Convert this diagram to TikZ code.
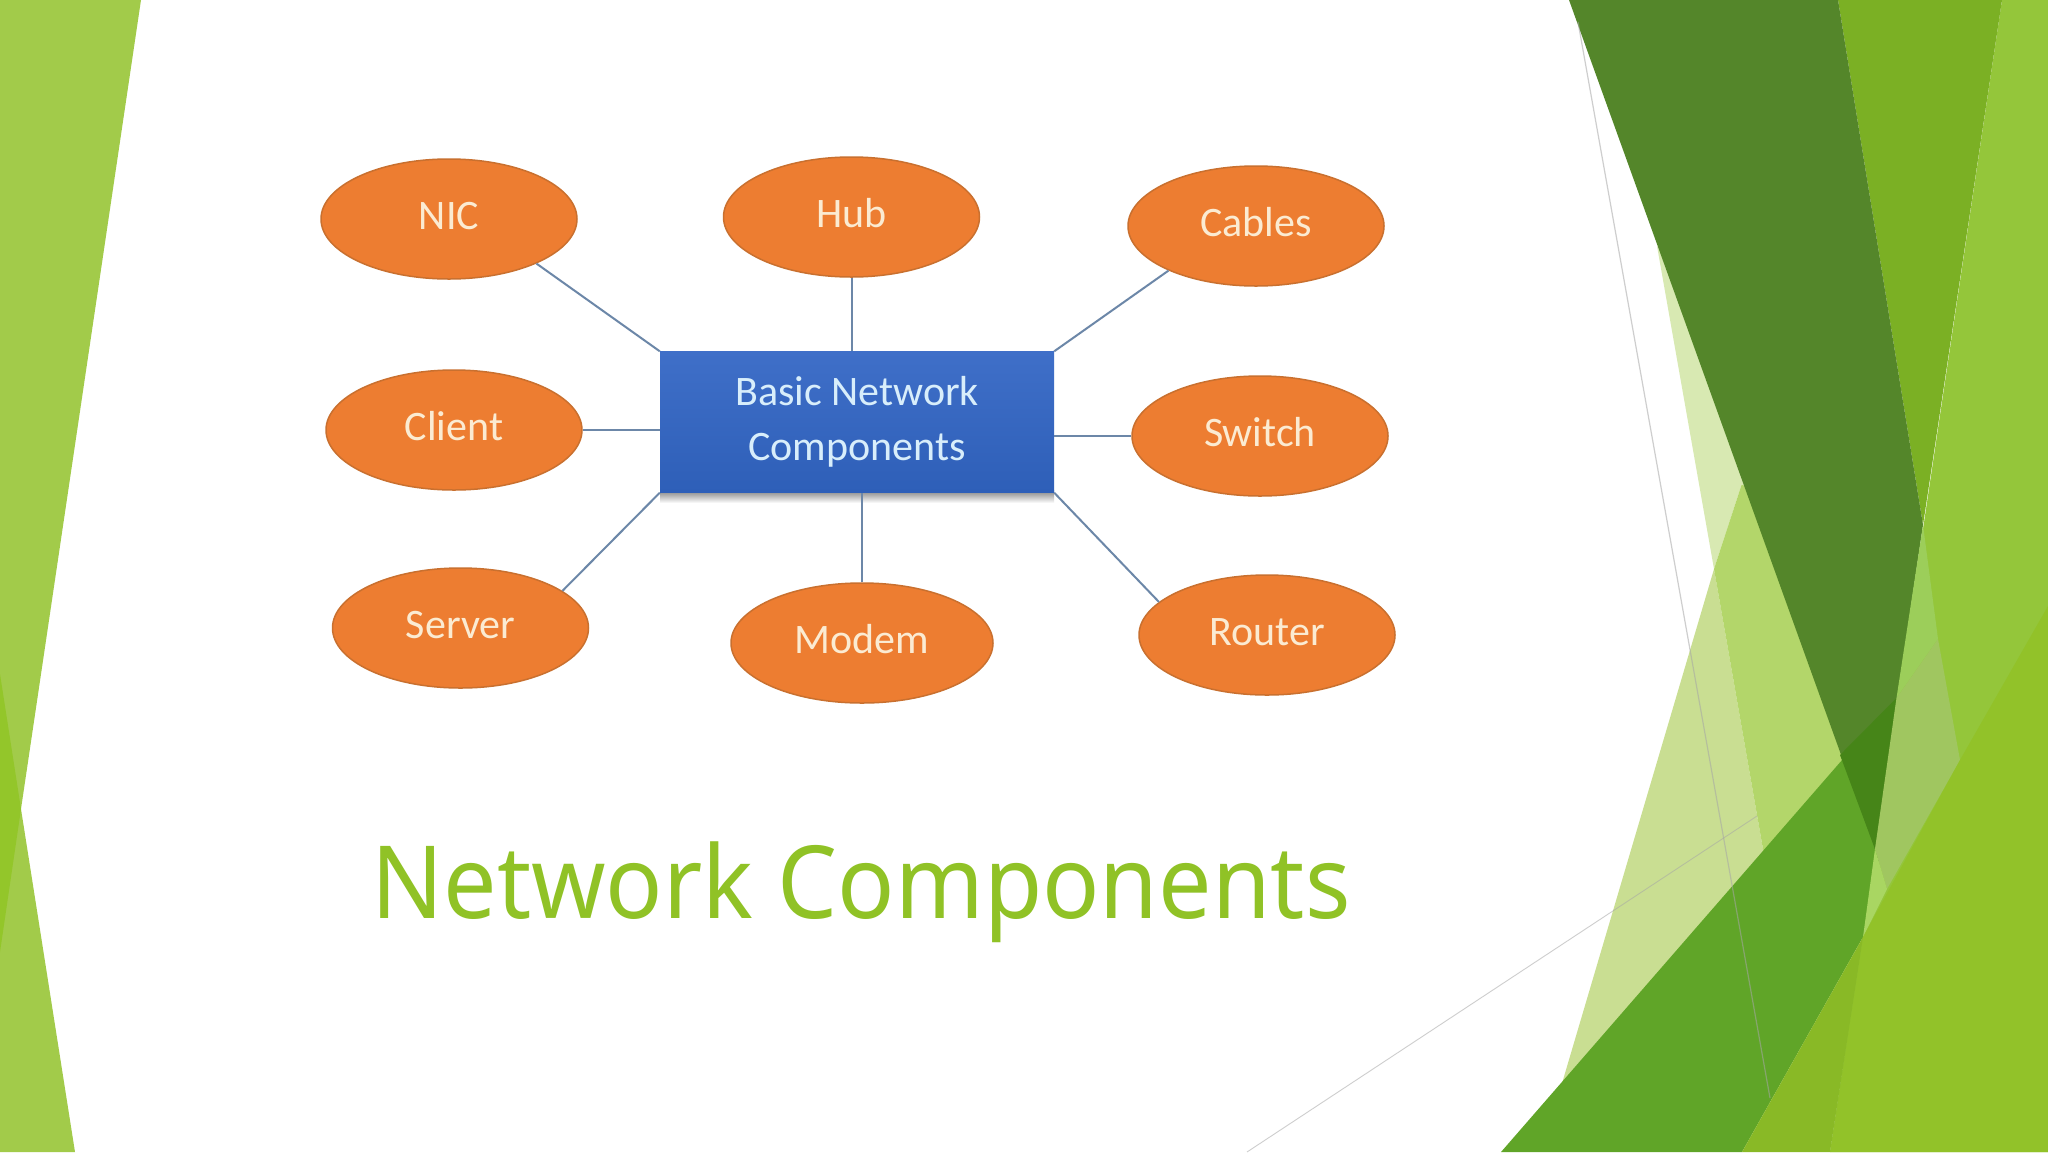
\documentclass[tikz,border=0pt]{standalone}
\usepackage{fontspec}
\setmainfont{Carlito}
\newfontfamily\titlefont{Noto Sans}[FakeStretch=0.94]
\usetikzlibrary{shapes.geometric}
\definecolor{orangefill}{HTML}{ED7D31}
\definecolor{orangeedge}{HTML}{C9702F}
\definecolor{linkcol}{HTML}{6C87A8}
\definecolor{labelcol}{HTML}{FBEBD2}
\definecolor{boxlabel}{HTML}{D8EEFB}
\definecolor{titlegreen}{HTML}{90C226}
\definecolor{boxtop}{HTML}{3F6FC8}
\definecolor{boxbot}{HTML}{2E5FB8}
\tikzset{
  comp/.style={ellipse,draw=orangeedge,line width=1.5pt,fill=orangefill,minimum width=256pt,minimum height=120pt,inner sep=0pt,text=labelcol,text height=26pt,text depth=6pt,font=\fontsize{42}{42}\selectfont},
  link/.style={draw=linkcol,line width=2pt},
  hub/.style={rectangle,minimum width=394pt,minimum height=141pt,inner sep=0pt,top color=boxtop,bottom color=boxbot,align=center,text=boxlabel,font=\fontsize{42}{55}\selectfont},
  thin gray/.style={draw=black!35,line width=1.2pt,opacity=.55},
}
\begin{document}
\begin{tikzpicture}[x=1pt,y=-1pt]
\useasboundingbox (0,0) rectangle (2048,1152);
\fill[white] (0,0) rectangle (2048,1152);
% left decoration
\fill[fill={rgb,255:red,162;green,203;blue,74}] (0,0) -- (141,0) -- (21,809) -- (75,1152) -- (0,1152) -- cycle;
\fill[fill={rgb,255:red,147;green,198;blue,42}] (0,674) -- (21,809) -- (0,952) -- cycle;
% pale layers, running on beneath the dark shapes
\fill[fill={rgb,255:red,216;green,233;blue,178}] (1657,246) -- (1800,500) -- (1741.5,485) -- (1714,569) -- cycle;
\fill[fill={rgb,255:red,201;green,222;blue,146}] (1714,569) -- (1767.5,875) -- (1555,1107) -- cycle;
\fill[fill={rgb,255:red,179;green,214;blue,106}] (1741.5,485) -- (1850,500) -- (1860,790) -- (1767.5,875) -- (1714,569) -- cycle;
% right top
\fill[fill={rgb,255:red,148;green,198;blue,58}] (2002,0) -- (2048,0) -- (2048,1152) -- (1830,1152) -- cycle;
\fill[fill={rgb,255:red,123;green,176;blue,36}] (1838,0) -- (2002,0) -- (1923,525) -- cycle;
% medium
\fill[fill={rgb,255:red,96;green,165;blue,40}] (1501,1152) -- (1896,698) -- (1880,860) -- (1863,937) -- (1742,1152) -- cycle;
% dark
\fill[fill={rgb,255:red,84;green,134;blue,42}] (1569,0) -- (1838,0) -- (1923,525) -- (1875,849) -- cycle;
\fill[fill={rgb,255:red,70;green,133;blue,24}] (1840,755) -- (1896.5,698) -- (1875,849) -- cycle;
% translucent panes
\fill[fill={rgb,255:red,156;green,206;blue,90}] (1923,525) -- (1938,639) -- (1896.5,698) -- cycle;
\fill[fill={rgb,255:red,160;green,198;blue,96}] (1938,639) -- (1960,760) -- (1887,889) -- (1875,849) -- (1896.5,698) -- cycle;
\fill[fill={rgb,255:red,169;green,214;blue,98}] (1887,889) -- (1863,937) -- (1875,849) -- cycle;
% bottom bright
\fill[fill={rgb,255:red,146;green,194;blue,41}] (1830,1152) -- (1863,937) -- (1960,760) -- (2048,606) -- (2048,1152) -- cycle;
\fill[fill={rgb,255:red,137;green,185;blue,38}] (1742,1152) -- (1863,937) -- (1830,1152) -- cycle;
% thin lines
\coordinate (la) at (1578,22);
\coordinate (lb) at (1770,1098);
\coordinate (lc) at (1247,1152);
\coordinate (ld) at (1757,816);
\draw[thin gray] (la) -- (lb);
\draw[thin gray,line width=.9pt] (lc) -- (ld);
% soft shadow below the box
\shade[top color=black!50,bottom color=white] (660,490) rectangle (1054,503);
% box
\node[hub] (box) at (857,422) {Basic Network\\Components};
% ellipses
\node[comp] (nic) at (449,219) {NIC};
\node[comp] (hubn) at (851.5,217) {Hub};
\node[comp] (cables) at (1256,226) {Cables};
\node[comp] (client) at (454,430) {Client};
\node[comp] (switch) at (1260,436) {Switch};
\node[comp] (server) at (460.5,628) {Server};
\node[comp,minimum width=262pt] (modem) at (862,643) {Modem};
\node[comp] (router) at (1267,635) {Router};
% links
\draw[link] (nic.-27) -- (box.north west);
\draw[link] (hubn.south) -- (hubn.south |- box.north);
\draw[link] (cables.-153) -- (box.north east);
\draw[link] (client.east) -- (client.east -| box.west);
\draw[link] (switch.west) -- (switch.west -| box.east);
\draw[link] (server.20) -- (box.south west);
\draw[link] (modem.north) -- (modem.north |- box.south);
\draw[link] (router.163) -- (box.south east);
% title
\node[text=titlegreen,font=\titlefont\fontsize{101}{101}\selectfont,anchor=base,inner sep=0pt] (title) at (861,918) {Network Components};
\end{tikzpicture}
\end{document}
